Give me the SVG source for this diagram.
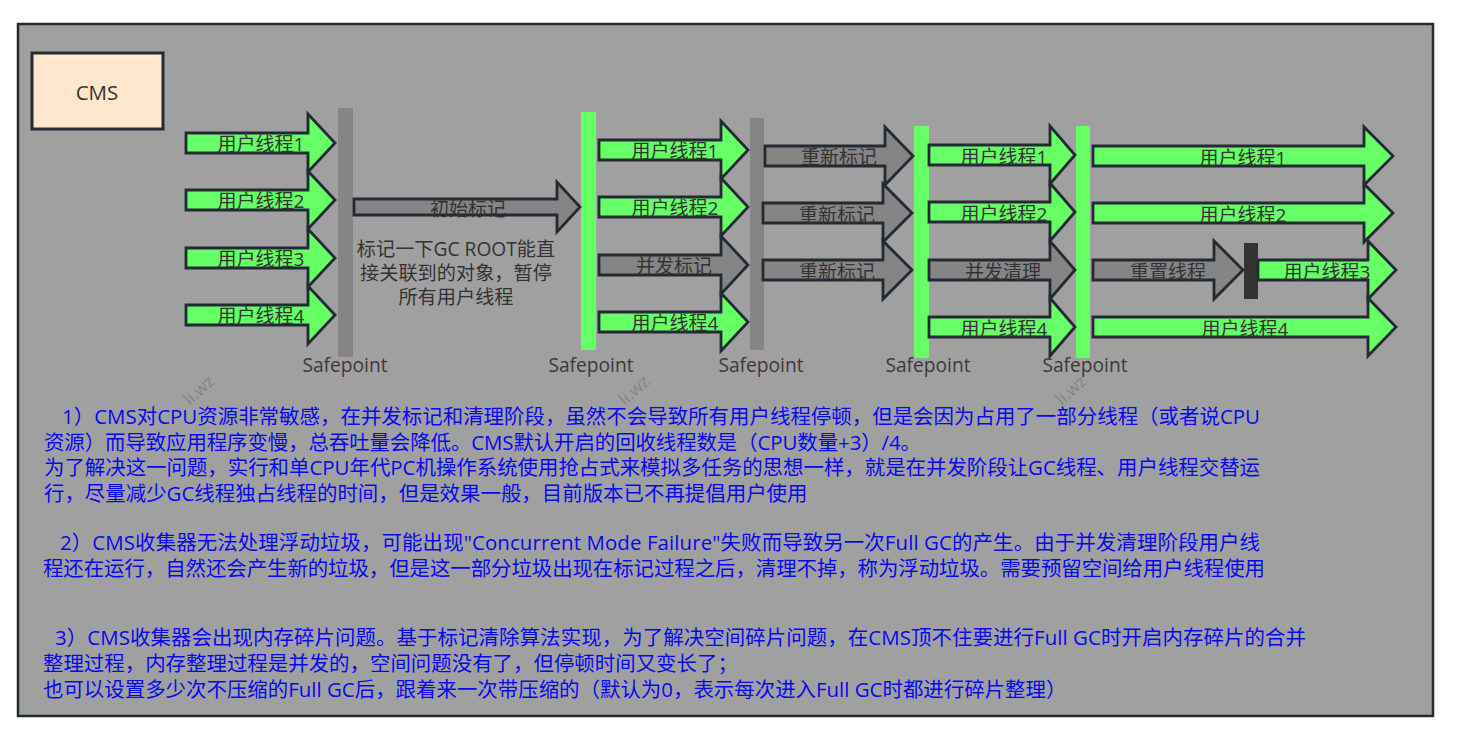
<svg xmlns="http://www.w3.org/2000/svg" width="1461" height="750" viewBox="0 0 1461 750">
<style>
text{font-family:"Open Sans","Noto Sans CJK SC",sans-serif}
.a{stroke:#222b33;stroke-width:2.8;stroke-linejoin:miter}
.g{fill:#66ff66}.k{fill:#858585}
.l{font-size:19px;fill:#333;text-anchor:middle;dominant-baseline:central}
.s{font-size:19.2px;fill:#3a3a3a;text-anchor:middle}
.b{font-size:20.45px;fill:#0808f0}
.w{font-size:17px;fill:#858585}
</style>
<rect width="1461" height="750" fill="#fff"/>
<rect id="frame" x="18" y="24" width="1415" height="692" fill="#a0a0a0" stroke="#222b33" stroke-width="2.5"/>
<g id="cms"><rect x="32" y="53" width="131" height="76" fill="#ffe6cc" stroke="#222b33" stroke-width="3"/><text class="l" style="font-size:20.5px" x="97" y="92">CMS</text></g>
<g id="bars">
<rect id="sp1" x="338" y="108" width="15" height="249" fill="#858585"/>
<rect id="sp2" x="581" y="112" width="15" height="238" fill="#66ff66"/>
<rect id="sp3" x="750" y="118" width="14" height="232" fill="#858585"/>
<rect id="sp4" x="914" y="126" width="15" height="232" fill="#66ff66"/>
<rect id="sp5" x="1076" y="126" width="14" height="232" fill="#66ff66"/>
<rect id="stop" x="1244" y="243" width="14" height="56" fill="#333"/>
</g>
<g id="connectors">
<path class="a g" d="M186 133H308V114L335 143L308 172V153H186Z"/>
<path class="a g" d="M186 190H308V171L335 200L308 229V210H186Z"/>
<path class="a g" d="M186 248H308V229L335 258L308 287V268H186Z"/>
<path class="a g" d="M186 305H308V286L335 315L308 344V325H186Z"/>
<path class="a k" d="M354 199H557V182L580 207L557 232V215H354Z"/>
<path class="a g" d="M599 140H721V121L748 150L721 179V160H599Z"/>
<path class="a g" d="M599 197H721V178L748 207L721 236V217H599Z"/>
<path class="a k" d="M599 255H721V236L748 265L721 294V275H599Z"/>
<path class="a g" d="M599 312H721V293L748 322L721 351V332H599Z"/>
<path class="a k" d="M765 146H885V127L913 156L885 185V166H765Z"/>
<path class="a k" d="M763 203H883V184L912 213L883 242V223H763Z"/>
<path class="a k" d="M763 260H883V241L912 270L883 299V280H763Z"/>
<path class="a g" d="M929 145H1050V126L1075 155L1050 184V165H929Z"/>
<path class="a g" d="M929 202H1050V183L1075 212L1050 241V222H929Z"/>
<path class="a k" d="M929 260H1050V241L1075 270L1050 299V280H929Z"/>
<path class="a g" d="M929 317H1050V298L1075 327L1050 356V337H929Z"/>
<path class="a g" d="M1093 146H1364V127L1393 156L1364 185V166H1093Z"/>
<path class="a g" d="M1093 203H1364V184L1393 213L1364 242V223H1093Z"/>
<path class="a k" d="M1093 260H1214V241L1243 270L1214 299V280H1093Z"/>
<path class="a g" d="M1258 260H1368V241L1396 270L1368 299V280H1258Z"/>
<path class="a g" d="M1093 317H1368V298L1396 327L1368 356V337H1093Z"/>
</g>
<g id="labels">
<text class="l" x="261" y="144">用户线程1</text>
<text class="l" x="261" y="201">用户线程2</text>
<text class="l" x="261" y="259">用户线程3</text>
<text class="l" x="261" y="316">用户线程4</text>
<text class="l" x="468" y="209">初始标记</text>
<text class="l" style="font-size:19.2px"><tspan x="456" y="248">标记一下GC ROOT能直</tspan><tspan x="456" y="272">接关联到的对象，暂停</tspan><tspan x="456" y="296">所有用户线程</tspan></text>
<text class="l" x="675" y="151">用户线程1</text>
<text class="l" x="675" y="208">用户线程2</text>
<text class="l" x="674" y="266">并发标记</text>
<text class="l" x="675" y="323">用户线程4</text>
<text class="l" x="839" y="157">重新标记</text>
<text class="l" x="837" y="215">重新标记</text>
<text class="l" x="837" y="272">重新标记</text>
<text class="l" x="1004" y="157">用户线程1</text>
<text class="l" x="1004" y="214">用户线程2</text>
<text class="l" x="1003" y="272">并发清理</text>
<text class="l" x="1004" y="329">用户线程4</text>
<text class="l" x="1243" y="158">用户线程1</text>
<text class="l" x="1243" y="215">用户线程2</text>
<text class="l" x="1168" y="272">重置线程</text>
<text class="l" x="1327" y="272">用户线程3</text>
<text class="l" x="1245" y="329">用户线程4</text>
<text class="s" x="345" y="372">Safepoint</text>
<text class="s" x="591" y="372">Safepoint</text>
<text class="s" x="761" y="372">Safepoint</text>
<text class="s" x="928" y="372">Safepoint</text>
<text class="s" x="1085" y="372">Safepoint</text>
</g>
<g id="watermarks">
<text class="w" transform="translate(190 406) rotate(-42)">li.wz</text>
<text class="w" transform="translate(625 406) rotate(-42)">li.wz</text>
<text class="w" transform="translate(1062 406) rotate(-42)">li.wz</text>
</g>
<g id="notes">
<text class="b" x="62" y="424" textLength="1198">1）CMS对CPU资源非常敏感，在并发标记和清理阶段，虽然不会导致所有用户线程停顿，但是会因为占用了一部分线程（或者说CPU</text>
<text class="b" x="44" y="450" textLength="877">资源）而导致应用程序变慢，总吞吐量会降低。CMS默认开启的回收线程数是（CPU数量+3）/4。</text>
<text class="b" x="44" y="475" textLength="1216">为了解决这一问题，实行和单CPU年代PC机操作系统使用抢占式来模拟多任务的思想一样，就是在并发阶段让GC线程、用户线程交替运</text>
<text class="b" x="44" y="501">行，尽量减少GC线程独占线程的时间，但是效果一般，目前版本已不再提倡用户使用</text>
<text class="b" x="60" y="550" textLength="1200">2）CMS收集器无法处理浮动垃圾，可能出现"Concurrent Mode Failure"失败而导致另一次Full GC的产生。由于并发清理阶段用户线</text>
<text class="b" x="43" y="576" textLength="1222">程还在运行，自然还会产生新的垃圾，但是这一部分垃圾出现在标记过程之后，清理不掉，称为浮动垃圾。需要预留空间给用户线程使用</text>
<text class="b" x="55" y="645" textLength="1251">3）CMS收集器会出现内存碎片问题。基于标记清除算法实现，为了解决空间碎片问题，在CMS顶不住要进行Full GC时开启内存碎片的合并</text>
<text class="b" x="43" y="671">整理过程，内存整理过程是并发的，空间问题没有了，但停顿时间又变长了；</text>
<text class="b" x="43" y="697">也可以设置多少次不压缩的Full GC后，跟着来一次带压缩的（默认为0，表示每次进入Full GC时都进行碎片整理）</text>
</g>
</svg>
